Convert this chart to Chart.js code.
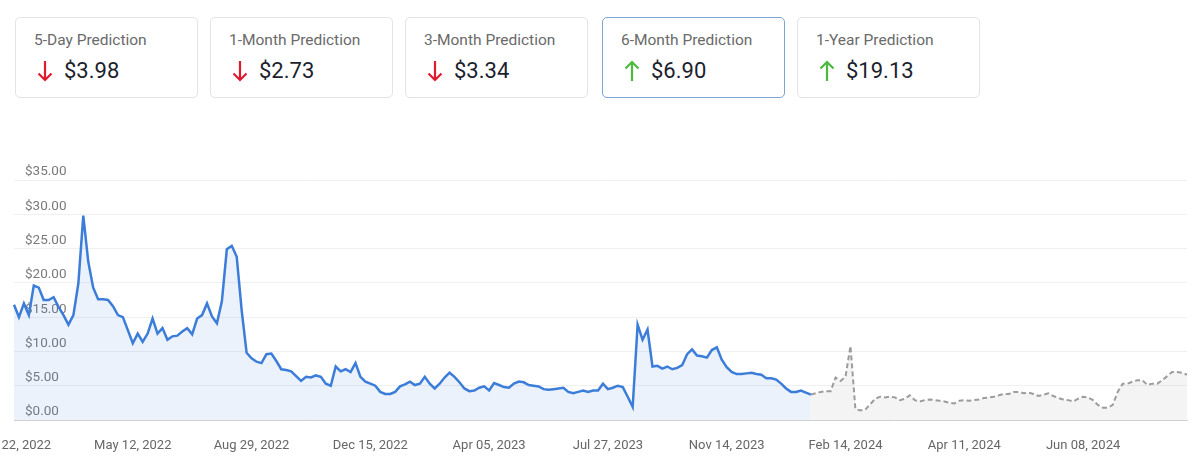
<!DOCTYPE html>
<html>
<head>
<meta charset="utf-8">
<script src="https://cdn.jsdelivr.net/npm/chart.js@4.4.1/dist/chart.umd.min.js"></script>
<style>
  html,body{margin:0;padding:0;background:#fff;font-family:Roboto,"Noto Sans",sans-serif;}
  #wrap{position:relative;width:1200px;height:458px;overflow:hidden;}
  .card{position:absolute;top:17px;width:181px;height:79px;border:1px solid #e4e4e4;border-radius:5px;background:#fff;box-sizing:content-box;}
  .card.active{border-color:#7ea4d4;}
  .card .t{position:absolute;left:18px;top:13px;font-size:15.5px;color:#6a6a6a;}
  .card .v{position:absolute;left:21px;top:40px;font-size:22px;color:#1c1f2e;display:flex;align-items:center;}
  .card .v svg{margin-right:11px;}
  #chart{position:absolute;left:0;top:150px;}
</style>
</head>
<body>
<div id="wrap">
  <div id="cards"></div>
  <canvas id="chart" width="1200" height="308"></canvas>
</div>
<script>
const cardTitles = ['5-Day Prediction','1-Month Prediction','3-Month Prediction','6-Month Prediction','1-Year Prediction'];
const cardValues = ['$3.98','$2.73','$3.34','$6.90','$19.13'];
const cardDirs = ['down','down','down','up','up'];
const cardLefts = [15,210,405,602,797];

const dateTicks = ['Jan 22, 2022','May 12, 2022','Aug 29, 2022','Dec 15, 2022','Apr 05, 2023','Jul 27, 2023','Nov 14, 2023','Feb 14, 2024','Apr 11, 2024','Jun 08, 2024'];
const tickEvery = 24;

// historical close
const hist = [
  16.8,15.0,17.0,15.3,19.6,19.3,17.5,17.5,17.9,16.5,
  15.3,13.9,15.3,19.9,29.8,23.1,19.3,17.6,17.6,17.5,
  16.6,15.3,15.0,13.1,11.2,12.6,11.4,12.6,14.8,12.6,
  13.4,11.7,12.2,12.3,12.9,13.4,12.5,14.8,15.3,17.0,
  15.1,14.1,17.3,24.9,25.4,23.8,16.0,9.8,9.0,8.5,
  8.3,9.6,9.7,8.6,7.4,7.3,7.1,6.4,5.7,6.3,
  6.2,6.5,6.3,5.3,5.0,7.8,7.1,7.4,7.0,8.3,
  6.3,5.6,5.3,5.0,4.1,3.8,3.8,4.1,4.9,5.2,
  5.6,5.1,5.3,6.3,5.3,4.6,5.3,6.2,6.9,6.3,
  5.5,4.6,4.2,4.3,4.7,4.9,4.3,5.4,5.1,4.8,
  4.7,5.3,5.6,5.5,5.1,5.0,4.9,4.5,4.4,4.5,
  4.6,4.7,4.1,3.9,4.1,4.3,4.1,4.3,4.3,5.3,
  4.5,4.7,5.0,4.8,3.4,1.9,13.9,11.7,13.2,7.8,
  7.9,7.5,7.8,7.4,7.6,8.0,9.6,10.3,9.4,9.3,
  9.1,10.2,10.6,8.8,7.7,7.0,6.7,6.7,6.8,6.9,
  6.7,6.6,6.1,6.1,5.9,5.3,4.6,4.1,4.1,4.3,
  4.0,3.7
];

// forecast, starts at last historical point
const pred = [
  3.7,3.9,4.1,4.2,4.2,6.2,5.7,6.3,10.8,1.6,
  1.4,1.5,2.3,3.1,3.4,3.3,3.4,3.3,2.9,3.1,
  3.6,2.9,2.7,2.9,3.0,2.9,2.8,2.7,2.5,2.4,
  2.8,2.9,2.8,2.9,3.0,3.2,3.3,3.4,3.6,3.8,
  3.8,4.1,4.1,3.9,4.0,3.8,3.5,3.7,3.9,3.5,
  3.2,3.0,2.9,2.7,3.1,3.4,3.3,2.9,2.2,1.8,
  1.8,2.2,4.1,5.3,5.3,5.6,5.8,5.8,5.1,5.3,
  5.3,5.8,6.4,7.0,7.0,6.9,6.6
];

function arrowSvg(dir){
  const col = dir === 'up' ? '#4cba3f' : '#e01a2f';
  const path = dir === 'up'
    ? 'M8 21 L8 2 M1.5 8.5 L8 2 L14.5 8.5'
    : 'M8 1 L8 20 M1.5 13.5 L8 20 L14.5 13.5';
  return `<svg width="16" height="22" viewBox="0 0 16 22"><path d="${path}" stroke="${col}" stroke-width="2.2" fill="none"/></svg>`;
}

function buildCards(){
  document.getElementById('cards').innerHTML = cardTitles.map((t,i)=>`
    <div class="card${i===3?' active':''}" style="left:${cardLefts[i]}px">
      <div class="t">${t}</div>
      <div class="v">${arrowSvg(cardDirs[i])}<span>${cardValues[i]}</span></div>
    </div>`).join('');
}

function buildChart(){
  const labels = Array.from({length: hist.length + pred.length - 1}, (_, i) => i);
  const predData = Array(hist.length - 1).fill(null).concat(pred);
  new Chart(document.getElementById('chart'), {
    type:'line',
    data:{labels, datasets:[
      {data:hist, borderColor:'#3b7dd8', borderWidth:2.5, backgroundColor:'rgba(59,125,216,0.1)', fill:'origin', pointRadius:0, tension:0},
      {data:predData, borderColor:'#9c9c9c', borderWidth:2, borderDash:[5,3], backgroundColor:'rgba(120,120,120,0.08)', fill:'origin', pointRadius:0, tension:0}
    ]},
    options:{
      responsive:false, animation:false,
      layout:{padding:{left:14, right:13, top:30, bottom:0}},
      plugins:{legend:{display:false}, tooltip:{enabled:false}},
      scales:{
        x:{
          grid:{display:false}, border:{color:'#cfcfcf'},
          ticks:{color:'#666', font:{family:'Roboto', size:13}, padding:10, maxRotation:0, autoSkip:false,
            callback:(v,i)=> i % tickEvery === 0 ? dateTicks[i / tickEvery] : null},
          afterFit:s=>{ s.height = 38; s.paddingLeft = 0; s.paddingRight = 0; }
        },
        y:{
          min:0, max:35,
          grid:{color:'#f0f0f0', drawTicks:false}, border:{display:false},
          ticks:{stepSize:5, mirror:true, padding:11, labelOffset:-8, color:'#7a7a7a', font:{family:'Roboto', size:13.5},
            callback:v=>'$' + v.toFixed(2)},
          afterFit:s=>{ s.width = 0; }
        }
      }
    }
  });
}

buildCards();
buildChart();
</script>
</body>
</html>
